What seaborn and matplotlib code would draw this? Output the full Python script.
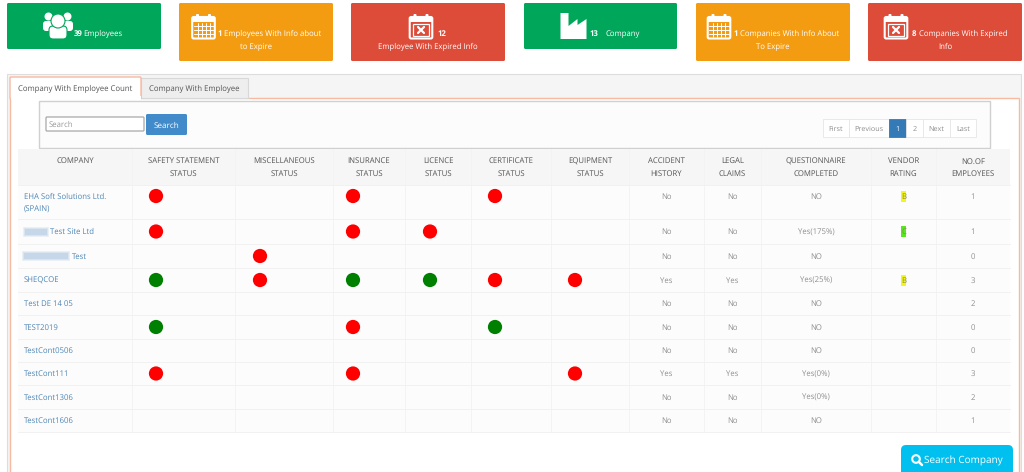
"""Company compliance dashboard screenshot, redrawn with seaborn."""

import pandas as pd
import matplotlib
matplotlib.use("Agg")
import matplotlib.pyplot as plt
from matplotlib.patches import Circle, FancyBboxPatch, Polygon, Rectangle
import seaborn as sns

# data
companies = ["EHA Soft Solutions Ltd.\n(SPAIN)", "Test Site Ltd", "Test", "SHEQCOE",
             "Test DE 14 05", "TEST2019", "TestCont0506", "TestCont111",
             "TestCont1306", "TestCont1606"]
headers = ["COMPANY", "SAFETY STATEMENT\nSTATUS", "MISCELLANEOUS\nSTATUS", "INSURANCE\nSTATUS",
           "LICENCE\nSTATUS", "CERTIFICATE\nSTATUS", "EQUIPMENT\nSTATUS", "ACCIDENT\nHISTORY",
           "LEGAL\nCLAIMS", "QUESTIONNAIRE\nCOMPLETED", "VENDOR\nRATING", "NO.OF\nEMPLOYEES"]
safety = ["R", "R", "", "G", "", "G", "", "R", "", ""]
misc = ["", "", "R", "R", "", "", "", "", "", ""]
insurance = ["R", "R", "", "G", "", "R", "", "R", "", ""]
licence = ["", "R", "", "G", "", "", "", "", "", ""]
certificate = ["R", "", "", "R", "", "G", "", "", "", ""]
equipment = ["", "", "", "R", "", "", "", "R", "", ""]
accident = ["No", "No", "No", "Yes", "No", "No", "No", "Yes", "No", "No"]
legal = ["No", "No", "No", "Yes", "No", "No", "No", "Yes", "No", "No"]
questionnaire = ["NO", "Yes(175%)", "NO", "Yes(25%)", "NO", "NO", "NO", "Yes(0%)", "Yes(0%)", "NO"]
vendor = ["B", "C", "", "B", "", "", "", "", "", ""]
employees = [1, 1, 0, 3, 2, 0, 0, 3, 2, 1]
pages = ["First", "Previous", "1", "2", "Next", "Last"]

# layout, in screenshot pixels
col_edges = [18, 132, 235, 333, 405, 471, 551, 629, 704, 761, 871, 936, 1010]
row_edges = [185, 219, 244, 268, 292, 315, 339, 362, 385, 409, 432]
page_edges = [823, 849, 889, 906, 923, 950, 976]
dot_offset = {"safety": 24, "misc": 25, "insurance": 20, "licence": 25, "certificate": 24, "equipment": 24}
LINE_STEP = 12.5
GREEN, ORANGE, RED = "#00a65a", "#f39c12", "#dd4b39"
LINK, GREY, DARK = "#4f86b5", "#8f8f8f", "#555555"
FONT = "Open Sans"

sns.set_theme(style="white")
plt.rcParams["font.family"] = [FONT, "DejaVu Sans"]
plt.rcParams["text.hinting"] = "no_hinting"

fig = plt.figure(figsize=(10.24, 4.72), dpi=100)
ax = fig.add_axes([0, 0, 1, 1])
ax.set_xlim(0, 1024)
ax.set_ylim(472, 0)
ax.axis("off")


def box(x0, y0, x1, y1, fc, ec="none", lw=0.8, r=0, z=1):
    if r:
        ax.add_patch(FancyBboxPatch((x0, y0), x1 - x0, y1 - y0, boxstyle=f"round,pad=0,rounding_size={r}",
                                    fc=fc, ec=ec, lw=lw, zorder=z))
    else:
        ax.add_patch(Rectangle((x0, y0), x1 - x0, y1 - y0, fc=fc, ec=ec, lw=lw, zorder=z))


def label(x, y, s, color="white", size=5.6, ha="center", weight="normal", z=5):
    # y is the middle of the first line; the baseline keeps all strings of a row level
    for k, line in enumerate(s.split("\n")):
        ax.text(x, y + size * 0.52 + k * LINE_STEP, line, color=color, fontsize=size, ha=ha,
                va="baseline", fontweight=weight, zorder=z)


def smudge(x0, x1, y):
    # the blurred out part of a company name
    for grow, alpha in ((2, 0.25), (1, 0.35), (0, 0.6)):
        ax.add_patch(Rectangle((x0 - grow, y - 3 - grow), x1 - x0 + 2 * grow, 6 + 2 * grow,
                               fc="#b9cfe4", ec="none", alpha=alpha, zorder=3))


def calendar(x, y, cross=False):
    # x, y is the top left of a 24x25 icon
    box(x + 0.7, y + 3, x + 23.3, y + 24.5, "none", "white", 1.5, r=1.5, z=3)
    box(x + 0.7, y + 3, x + 23.3, y + 8, "white", z=3)
    for dx in (6, 18):
        box(x + dx - 1.5, y, x + dx + 1.5, y + 6, "white", r=1, z=4)
    if cross:
        box(x + 4, y + 10, x + 20, y + 22, "none", "white", 0.9, z=3)
        ax.plot([x + 9, x + 15], [y + 13, y + 19], color="white", lw=1.6, zorder=4)
        ax.plot([x + 15, x + 9], [y + 13, y + 19], color="white", lw=1.6, zorder=4)
    else:
        for dx in (6, 10, 14, 18):
            ax.plot([x + dx, x + dx], [y + 9, y + 23], color="white", lw=0.7, zorder=4)
        for dy in (12, 16, 20):
            ax.plot([x + 2, x + 22], [y + dy, y + dy], color="white", lw=0.7, zorder=4)


def people(cx, y):
    for dx, dy, r in ((-9.5, 3.5, 4), (9.5, 3.5, 4)):
        ax.add_patch(Circle((cx + dx, y + dy), r, fc="white", ec="none", zorder=3))
        box(cx + dx - 5.5, y + 8, cx + dx + 5.5, y + 18, "white", r=3, z=3)
    box(cx - 9, y + 13, cx + 9, y + 26, "white", GREEN, 0.8, r=4, z=4)
    ax.add_patch(Circle((cx, y + 8), 7, fc="white", ec=GREEN, lw=0.8, zorder=4))


def factory(x, y):
    pts = [(0, 0), (8, 0), (8, 13), (17, 6), (17, 12), (26, 6), (26, 26), (0, 26)]
    ax.add_patch(Polygon([(x + a, y + b) for a, b in pts], fc="white", ec="none", zorder=3))


# summary cards
box(7, 3, 161, 49, GREEN, r=1.5)
box(179, 3, 333, 61, ORANGE, r=1.5)
box(351, 3, 505, 61, RED, r=1.5)
box(524, 3, 677, 49, GREEN, r=1.5)
box(696, 3, 850, 61, ORANGE, r=1.5)
box(868, 3, 1022, 61, RED, r=1.5)

people(58, 13)
calendar(191.5, 14)
calendar(409, 14, cross=True)
factory(560.5, 13)
calendar(707, 14)
calendar(884, 14, cross=True)

label(74, 33, "39", ha="left", weight="bold")
label(83, 33, "Employees", ha="left")
label(218, 33, "1", ha="left", weight="bold")
label(224, 33, "Employees With Info about", ha="left")
label(256, 46, "to Expire")
label(438, 33, "12", ha="left", weight="bold")
label(428, 46, "Employee With Expired Info")
label(590, 33, "13", ha="left", weight="bold")
label(606, 33, "Company", ha="left")
label(734, 33, "1", ha="left", weight="bold")
label(740, 33, "Companies With Info About", ha="left")
label(773, 46, "To Expire")
label(912, 33, "8", ha="left", weight="bold")
label(919, 33, "Companies With Expired", ha="left")
label(945, 46, "Info")

# panel and tabs
box(7, 74, 1021, 474, "#f5f5f5", "#dddddd")
box(10, 97.5, 1019, 476, "white", "#f7b9a0", 1.0, z=1.5)
box(141, 78, 248, 97.5, "#eeeeee", "#d8d8d8", z=1.6)
box(10, 77, 141, 99, "white", "#f7b9a0", 1.0, r=1, z=1.7)
box(11, 96, 140.5, 100, "white", z=1.8)
label(75.5, 88, "Company With Employee Count", DARK)
label(194.5, 88, "Company With Employee", DARK)

# search bar
box(39, 101, 990, 148, "#fcfcfc", "#d0d0d0", 1.0, z=2)
box(46, 117, 144, 131, "white", "#a8a8a8", 0.9, r=1, z=3)
label(48.5, 124, "Search", "#999999", ha="left")
box(146, 114, 187, 135, "#428bca", r=1.5, z=3)
label(166.5, 124.5, "Search", "white", 5.9)

for i, page in enumerate(pages):
    active = page == "1"
    box(page_edges[i], 119, page_edges[i + 1], 137, "#337ab7" if active else "white",
        "#337ab7" if active else "#e6e6e6", 0.6, z=3)
    label((page_edges[i] + page_edges[i + 1]) / 2, 128, page, "white" if active else GREY, 5.2)

# table
box(18, 149, 1010, 185, "#f6f6f6", z=2)
box(18, 185, 1010, 432, "#fcfcfc", z=2)
for edge in col_edges[1:-1]:
    ax.plot([edge, edge], [149, 432], color="#f3f3f3", lw=0.7, zorder=2.5)
for edge in row_edges:
    ax.plot([18, 1010], [edge, edge], color="#f1f1f1", lw=0.7, zorder=2.5)

for i, head in enumerate(headers):
    label((col_edges[i] + col_edges[i + 1]) / 2, 160.5, head, DARK)

row_mid = [(row_edges[i] + row_edges[i + 1]) / 2 for i in range(len(companies))]
row_mid[0] = 196  # first row is two lines tall, its cells sit on the first line
col_mid = [(col_edges[i] + col_edges[i + 1]) / 2 for i in range(len(headers))]

for i, name in enumerate(companies):
    if name == "Test Site Ltd":
        smudge(25, 47, row_mid[i])
        label(50, row_mid[i], name, LINK, ha="left")
    elif name == "Test":
        smudge(24, 68, row_mid[i])
        label(72, row_mid[i], name, LINK, ha="left")
    else:
        label(24, row_mid[i], name, LINK, ha="left")
    label(col_mid[7], row_mid[i], accident[i], GREY)
    label(col_mid[8], row_mid[i], legal[i], GREY)
    label(col_mid[9], row_mid[i], questionnaire[i], GREY)
    label(col_mid[11], row_mid[i], str(employees[i]), GREY)
    if vendor[i]:
        fill = "#f2f51e" if vendor[i] == "B" else "#55e81a"
        box(col_mid[10] - 2.5, row_mid[i] - 5.5, col_mid[10] + 2.5, row_mid[i] + 5.5, fill, z=3)
        label(col_mid[10], row_mid[i], vendor[i], "#8a8a50")

# status dots from the long form table
status_cols = {"safety": safety, "misc": misc, "insurance": insurance,
               "licence": licence, "certificate": certificate, "equipment": equipment}
rows = []
for c, (col, values) in enumerate(status_cols.items()):
    for i, value in enumerate(values):
        if value:
            rows.append({"x": col_edges[c + 1] + dot_offset[col], "y": row_mid[i], "status": value})
dots = pd.DataFrame(rows)
sns.scatterplot(data=dots, x="x", y="y", hue="status", palette={"R": "#ff0000", "G": "#008000"},
                s=105, linewidth=0, legend=False, ax=ax, zorder=6)
ax.set_xlim(0, 1024)
ax.set_ylim(472, 0)
ax.axis("off")

# search company button
box(901, 445, 1013, 480, "#00c0ef", r=5, z=3)
ax.add_patch(Circle((916, 459), 3.8, fc="none", ec="white", lw=1.5, zorder=5))
ax.plot([919, 922], [462, 465], color="white", lw=1.8, zorder=5)
label(924, 460, "Search Company", "white", 7.2, ha="left")

fig.savefig("out.png", dpi=100)
